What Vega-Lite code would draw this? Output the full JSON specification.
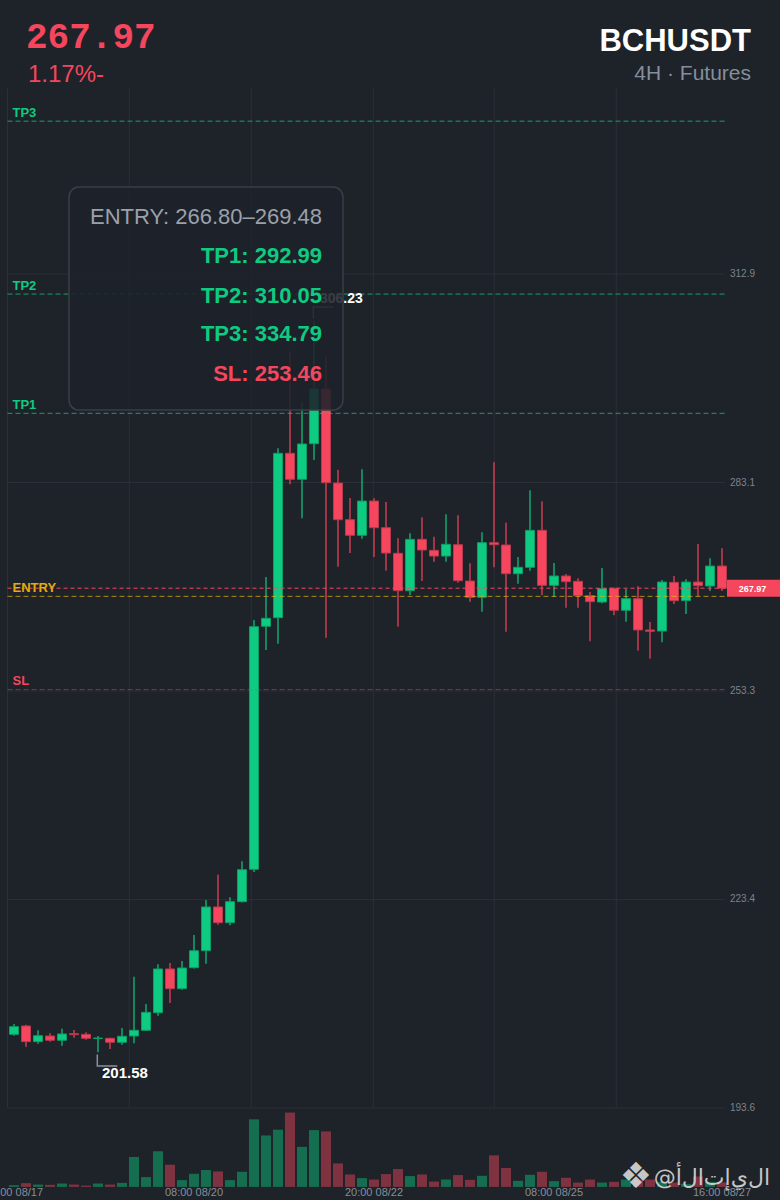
{
  "$schema": "https://vega.github.io/schema/vega-lite/v6.json",
  "width": 780,
  "height": 1200,
  "autosize": {"type": "none"},
  "padding": 0,
  "background": "#1e2229",
  "config": {"view": {"stroke": null}, "font": "Liberation Sans", "text": {"font": "Liberation Sans"}},
  "datasets": {
    "candles": [
      {"t": "2025-08-17T20:00", "open": 204.14, "high": 205.62, "low": 203.94, "close": 205.23, "volume": 1700},
      {"t": "2025-08-18T00:00", "open": 205.33, "high": 205.52, "low": 202.37, "close": 203.09, "volume": 3700},
      {"t": "2025-08-18T04:00", "open": 203.09, "high": 204.72, "low": 202.80, "close": 203.94, "volume": 2300},
      {"t": "2025-08-18T08:00", "open": 203.90, "high": 204.29, "low": 203.09, "close": 203.29, "volume": 2000},
      {"t": "2025-08-18T12:00", "open": 203.29, "high": 204.95, "low": 202.51, "close": 204.19, "volume": 3300},
      {"t": "2025-08-18T16:00", "open": 204.23, "high": 204.76, "low": 203.66, "close": 204.09, "volume": 2300},
      {"t": "2025-08-18T20:00", "open": 204.14, "high": 204.43, "low": 203.37, "close": 203.57, "volume": 1300},
      {"t": "2025-08-19T00:00", "open": 203.54, "high": 203.90, "low": 201.58, "close": 203.61, "volume": 3300},
      {"t": "2025-08-19T04:00", "open": 203.57, "high": 203.66, "low": 202.04, "close": 203.00, "volume": 2300},
      {"t": "2025-08-19T08:00", "open": 203.00, "high": 205.05, "low": 202.66, "close": 203.86, "volume": 4000},
      {"t": "2025-08-19T12:00", "open": 203.90, "high": 212.38, "low": 202.86, "close": 204.72, "volume": 29700},
      {"t": "2025-08-19T16:00", "open": 204.72, "high": 208.48, "low": 204.62, "close": 207.29, "volume": 9700},
      {"t": "2025-08-19T20:00", "open": 207.23, "high": 214.16, "low": 206.81, "close": 213.49, "volume": 35300},
      {"t": "2025-08-20T00:00", "open": 213.49, "high": 214.34, "low": 208.62, "close": 210.67, "volume": 22000},
      {"t": "2025-08-20T04:00", "open": 210.67, "high": 214.63, "low": 210.53, "close": 213.63, "volume": 6700},
      {"t": "2025-08-20T08:00", "open": 213.67, "high": 218.35, "low": 213.55, "close": 216.10, "volume": 13000},
      {"t": "2025-08-20T12:00", "open": 216.10, "high": 223.36, "low": 214.25, "close": 222.36, "volume": 16700},
      {"t": "2025-08-20T16:00", "open": 222.36, "high": 226.98, "low": 219.83, "close": 220.11, "volume": 15300},
      {"t": "2025-08-20T20:00", "open": 220.11, "high": 223.74, "low": 219.74, "close": 223.12, "volume": 6700},
      {"t": "2025-08-21T00:00", "open": 223.12, "high": 228.89, "low": 223.00, "close": 227.69, "volume": 15000},
      {"t": "2025-08-21T04:00", "open": 227.75, "high": 263.42, "low": 227.36, "close": 262.46, "volume": 67000},
      {"t": "2025-08-21T08:00", "open": 262.52, "high": 269.57, "low": 259.12, "close": 263.66, "volume": 51000},
      {"t": "2025-08-21T12:00", "open": 263.75, "high": 287.98, "low": 260.03, "close": 287.27, "volume": 56700},
      {"t": "2025-08-21T16:00", "open": 287.27, "high": 301.90, "low": 282.83, "close": 283.55, "volume": 73700},
      {"t": "2025-08-21T20:00", "open": 283.55, "high": 294.65, "low": 277.97, "close": 288.60, "volume": 39700},
      {"t": "2025-08-22T00:00", "open": 288.64, "high": 306.23, "low": 286.31, "close": 296.47, "volume": 56300},
      {"t": "2025-08-22T04:00", "open": 296.47, "high": 301.09, "low": 260.89, "close": 283.06, "volume": 55000},
      {"t": "2025-08-22T08:00", "open": 283.02, "high": 284.92, "low": 271.04, "close": 277.77, "volume": 23300},
      {"t": "2025-08-22T12:00", "open": 277.77, "high": 280.87, "low": 273.00, "close": 275.54, "volume": 12300},
      {"t": "2025-08-22T16:00", "open": 275.54, "high": 284.98, "low": 275.05, "close": 280.44, "volume": 8700},
      {"t": "2025-08-22T20:00", "open": 280.44, "high": 280.83, "low": 272.43, "close": 276.62, "volume": 7300},
      {"t": "2025-08-23T00:00", "open": 276.62, "high": 280.30, "low": 270.47, "close": 273.00, "volume": 12700},
      {"t": "2025-08-23T04:00", "open": 272.96, "high": 275.11, "low": 262.46, "close": 267.61, "volume": 17700},
      {"t": "2025-08-23T08:00", "open": 267.61, "high": 275.82, "low": 266.99, "close": 274.96, "volume": 10700},
      {"t": "2025-08-23T12:00", "open": 274.96, "high": 278.11, "low": 269.00, "close": 273.43, "volume": 12300},
      {"t": "2025-08-23T16:00", "open": 273.39, "high": 275.34, "low": 271.76, "close": 272.57, "volume": 5300},
      {"t": "2025-08-23T20:00", "open": 272.57, "high": 278.54, "low": 271.76, "close": 274.25, "volume": 7300},
      {"t": "2025-08-24T00:00", "open": 274.19, "high": 278.40, "low": 268.75, "close": 269.04, "volume": 11700},
      {"t": "2025-08-24T04:00", "open": 269.00, "high": 271.53, "low": 266.04, "close": 266.67, "volume": 7000},
      {"t": "2025-08-24T08:00", "open": 266.67, "high": 275.96, "low": 264.61, "close": 274.48, "volume": 11000},
      {"t": "2025-08-24T12:00", "open": 274.48, "high": 285.98, "low": 270.96, "close": 274.19, "volume": 31300},
      {"t": "2025-08-24T16:00", "open": 274.15, "high": 277.34, "low": 261.74, "close": 270.04, "volume": 18700},
      {"t": "2025-08-24T20:00", "open": 270.04, "high": 272.43, "low": 268.61, "close": 270.96, "volume": 6000},
      {"t": "2025-08-25T00:00", "open": 270.96, "high": 281.97, "low": 270.47, "close": 276.25, "volume": 12000},
      {"t": "2025-08-25T04:00", "open": 276.25, "high": 280.40, "low": 266.95, "close": 268.38, "volume": 15000},
      {"t": "2025-08-25T08:00", "open": 268.38, "high": 271.57, "low": 266.71, "close": 269.71, "volume": 5700},
      {"t": "2025-08-25T12:00", "open": 269.71, "high": 270.00, "low": 265.18, "close": 268.90, "volume": 9000},
      {"t": "2025-08-25T16:00", "open": 268.96, "high": 269.38, "low": 265.18, "close": 266.89, "volume": 4300},
      {"t": "2025-08-25T20:00", "open": 266.89, "high": 267.42, "low": 260.37, "close": 266.04, "volume": 7300},
      {"t": "2025-08-26T00:00", "open": 265.99, "high": 270.86, "low": 265.81, "close": 267.90, "volume": 4300},
      {"t": "2025-08-26T04:00", "open": 267.96, "high": 268.05, "low": 264.09, "close": 264.81, "volume": 5000},
      {"t": "2025-08-26T08:00", "open": 264.81, "high": 267.85, "low": 263.17, "close": 266.47, "volume": 7300},
      {"t": "2025-08-26T12:00", "open": 266.47, "high": 268.24, "low": 259.03, "close": 261.99, "volume": 7000},
      {"t": "2025-08-26T16:00", "open": 261.99, "high": 263.13, "low": 257.88, "close": 261.80, "volume": 7300},
      {"t": "2025-08-26T20:00", "open": 261.84, "high": 269.14, "low": 260.23, "close": 268.85, "volume": 5000},
      {"t": "2025-08-27T00:00", "open": 268.81, "high": 269.71, "low": 265.71, "close": 266.18, "volume": 4300},
      {"t": "2025-08-27T04:00", "open": 266.18, "high": 269.24, "low": 264.28, "close": 268.85, "volume": 3000},
      {"t": "2025-08-27T08:00", "open": 268.85, "high": 274.29, "low": 266.85, "close": 268.33, "volume": 10300},
      {"t": "2025-08-27T12:00", "open": 268.28, "high": 272.25, "low": 267.57, "close": 271.14, "volume": 5000},
      {"t": "2025-08-27T16:00", "open": 271.14, "high": 273.68, "low": 267.57, "close": 267.97, "volume": 4500}
    ],
    "levels": [
      {"level": "TP3", "price": 334.79, "kind": "tp", "text": "TP3: 334.79"},
      {"level": "TP2", "price": 310.05, "kind": "tp", "text": "TP2: 310.05"},
      {"level": "TP1", "price": 292.99, "kind": "tp", "text": "TP1: 292.99"},
      {"level": "ENTRY", "price": 266.80, "price_hi": 269.48, "kind": "entry", "text": "ENTRY: 266.80–269.48"},
      {"level": "SL", "price": 253.46, "kind": "sl", "text": "SL: 253.46"}
    ],
    "quote": [
      {"symbol": "BCHUSDT", "price": 267.97, "change": "1.17%-", "tf": "4H · Futures"}
    ],
    "grid_h": [
      {"price": 193.6}, {"price": 223.43}, {"price": 253.26}, {"price": 283.09}, {"price": 312.92}
    ],
    "grid_v": [
      {"t": "2025-08-17T17:50"}, {"t": "2025-08-19T10:26"}, {"t": "2025-08-21T03:06"},
      {"t": "2025-08-22T19:46"}, {"t": "2025-08-24T12:06"}, {"t": "2025-08-26T04:46"}
    ],
    "ticks_x": [
      {"t": "2025-08-17T20:00"}, {"t": "2025-08-20T08:00"}, {"t": "2025-08-22T20:00"},
      {"t": "2025-08-25T08:00"}, {"t": "2025-08-27T16:00"}
    ]
  },
  "layer": [
    {
      "data": {"name": "candles"},
      "mark": {"type": "bar", "width": 10, "opacity": 0.45},
      "encoding": {
        "x": {"field": "t", "type": "temporal", "axis": null,
              "scale": {"domain": [{"year": 2025, "month": 8, "date": 17, "hours": 17, "minutes": 0}, {"year": 2025, "month": 8, "date": 28, "hours": 9, "minutes": 40}], "nice": false}},
        "y": {"field": "volume", "type": "quantitative", "axis": null,
              "scale": {"domain": [-13000, 1177000], "nice": false, "zero": false}},
        "y2": {"datum": 0},
        "color": {"condition": {"test": "datum.close >= datum.open", "value": "#0ecb81"}, "value": "#f6465d"}
      }
    },
    {
      "layer": [
        {
          "data": {"name": "grid_h"},
          "mark": {"type": "rule", "color": "#2b2f37", "strokeWidth": 1},
          "encoding": {
            "x": {"datum": {"year": 2025, "month": 8, "date": 17, "hours": 17, "minutes": 50}, "type": "temporal", "axis": null,
                  "scale": {"domain": [{"year": 2025, "month": 8, "date": 17, "hours": 17, "minutes": 0}, {"year": 2025, "month": 8, "date": 28, "hours": 9, "minutes": 40}], "nice": false}},
            "x2": {"datum": {"year": 2025, "month": 8, "date": 27, "hours": 17, "minutes": 0}},
            "y": {"field": "price", "type": "quantitative", "axis": null,
                  "scale": {"domain": [181.15, 351.41], "nice": false, "zero": false}}
          }
        },
        {
          "data": {"name": "grid_v"},
          "mark": {"type": "rule", "color": "#2b2f37", "strokeWidth": 1},
          "encoding": {
            "x": {"field": "t", "type": "temporal", "axis": null,
                  "scale": {"domain": [{"year": 2025, "month": 8, "date": 17, "hours": 17, "minutes": 0}, {"year": 2025, "month": 8, "date": 28, "hours": 9, "minutes": 40}], "nice": false}},
            "y": {"datum": 339.53, "type": "quantitative", "axis": null, "scale": {"domain": [181.15, 351.41], "nice": false, "zero": false}},
            "y2": {"datum": 193.6}
          }
        },
        {
          "data": {"name": "grid_h"},
          "mark": {"type": "text", "align": "left", "baseline": "middle", "fontSize": 10, "color": "#7d828b"},
          "encoding": {
            "x": {"datum": {"year": 2025, "month": 8, "date": 27, "hours": 18, "minutes": 40}, "type": "temporal", "axis": null,
                  "scale": {"domain": [{"year": 2025, "month": 8, "date": 17, "hours": 17, "minutes": 0}, {"year": 2025, "month": 8, "date": 28, "hours": 9, "minutes": 40}], "nice": false}},
            "y": {"field": "price", "type": "quantitative", "axis": null, "scale": {"domain": [181.15, 351.41], "nice": false, "zero": false}},
            "text": {"field": "price", "type": "quantitative", "format": ".1f"}
          }
        },
        {
          "data": {"name": "ticks_x"},
          "mark": {"type": "text", "align": "center", "baseline": "middle", "fontSize": 11, "color": "#848e9c"},
          "encoding": {
            "x": {"field": "t", "type": "temporal", "axis": null,
                  "scale": {"domain": [{"year": 2025, "month": 8, "date": 17, "hours": 17, "minutes": 0}, {"year": 2025, "month": 8, "date": 28, "hours": 9, "minutes": 40}], "nice": false}},
            "y": {"datum": 181.44, "type": "quantitative", "axis": null, "scale": {"domain": [181.15, 351.41], "nice": false, "zero": false}},
            "text": {"field": "t", "type": "temporal", "format": "%H:%M %m/%d"}
          }
        },
        {
          "data": {"name": "candles"},
          "mark": {"type": "rule", "strokeWidth": 1.2},
          "encoding": {
            "x": {"field": "t", "type": "temporal", "axis": null,
                  "scale": {"domain": [{"year": 2025, "month": 8, "date": 17, "hours": 17, "minutes": 0}, {"year": 2025, "month": 8, "date": 28, "hours": 9, "minutes": 40}], "nice": false}},
            "y": {"field": "low", "type": "quantitative", "axis": null, "scale": {"domain": [181.15, 351.41], "nice": false, "zero": false}},
            "y2": {"field": "high"},
            "color": {"condition": {"test": "datum.close >= datum.open", "value": "#0ecb81"}, "value": "#f6465d"}
          }
        },
        {
          "data": {"name": "candles"},
          "mark": {"type": "bar", "width": 9, "strokeWidth": 1},
          "encoding": {
            "x": {"field": "t", "type": "temporal", "axis": null,
                  "scale": {"domain": [{"year": 2025, "month": 8, "date": 17, "hours": 17, "minutes": 0}, {"year": 2025, "month": 8, "date": 28, "hours": 9, "minutes": 40}], "nice": false}},
            "y": {"field": "open", "type": "quantitative", "axis": null, "scale": {"domain": [181.15, 351.41], "nice": false, "zero": false}},
            "y2": {"field": "close"},
            "color": {"condition": {"test": "datum.close >= datum.open", "value": "#0ecb81"}, "value": "#f6465d"},
            "stroke": {"condition": {"test": "datum.close >= datum.open", "value": "#0c9e66"}, "value": "#b83a4d"}
          }
        },
        {
          "data": {"name": "levels"},
          "mark": {"type": "rule", "strokeDash": [5, 3], "strokeWidth": 1},
          "encoding": {
            "x": {"datum": {"year": 2025, "month": 8, "date": 17, "hours": 17, "minutes": 50}, "type": "temporal", "axis": null,
                  "scale": {"domain": [{"year": 2025, "month": 8, "date": 17, "hours": 17, "minutes": 0}, {"year": 2025, "month": 8, "date": 28, "hours": 9, "minutes": 40}], "nice": false}},
            "x2": {"datum": {"year": 2025, "month": 8, "date": 27, "hours": 17, "minutes": 0}},
            "y": {"field": "price", "type": "quantitative", "axis": null, "scale": {"domain": [181.15, 351.41], "nice": false, "zero": false}},
            "color": {"field": "kind", "type": "nominal", "legend": null,
                      "scale": {"domain": ["tp", "entry", "sl"], "range": ["#0ecb81", "#e0ad0c", "#f6465d"]}},
            "opacity": {"condition": {"test": "datum.kind == 'sl'", "value": 0.5}, "value": 0.75}
          }
        },
        {
          "data": {"name": "quote"},
          "mark": {"type": "rule", "strokeDash": [4, 3], "strokeWidth": 1, "color": "#f6465d"},
          "encoding": {
            "x": {"datum": {"year": 2025, "month": 8, "date": 17, "hours": 17, "minutes": 50}, "type": "temporal", "axis": null,
                  "scale": {"domain": [{"year": 2025, "month": 8, "date": 17, "hours": 17, "minutes": 0}, {"year": 2025, "month": 8, "date": 28, "hours": 9, "minutes": 40}], "nice": false}},
            "x2": {"datum": {"year": 2025, "month": 8, "date": 27, "hours": 17, "minutes": 40}},
            "y": {"field": "price", "type": "quantitative", "axis": null, "scale": {"domain": [181.15, 351.41], "nice": false, "zero": false}}
          }
        },
        {
          "data": {"name": "levels"},
          "mark": {"type": "text", "align": "left", "baseline": "middle", "dy": -8.5, "fontSize": 13, "fontWeight": "bold"},
          "encoding": {
            "x": {"datum": {"year": 2025, "month": 8, "date": 17, "hours": 19, "minutes": 30}, "type": "temporal", "axis": null,
                  "scale": {"domain": [{"year": 2025, "month": 8, "date": 17, "hours": 17, "minutes": 0}, {"year": 2025, "month": 8, "date": 28, "hours": 9, "minutes": 40}], "nice": false}},
            "y": {"field": "price", "type": "quantitative", "axis": null, "scale": {"domain": [181.15, 351.41], "nice": false, "zero": false}},
            "text": {"field": "level"},
            "color": {"field": "kind", "type": "nominal", "legend": null,
                      "scale": {"domain": ["tp", "entry", "sl"], "range": ["#0ecb81", "#e0ad0c", "#f6465d"]}}
          }
        },
        {
          "data": {"name": "candles"},
          "transform": [{"joinaggregate": [{"op": "min", "field": "low", "as": "lmin"}]}, {"filter": "datum.low == datum.lmin"}],
          "layer": [
            {"mark": {"type": "point", "shape": "M-0.07,0.24V1.37H1.93", "size": 400, "filled": false, "strokeWidth": 1.5, "color": "#8a8f98", "opacity": 1}},
            {"mark": {"type": "text", "align": "left", "baseline": "middle", "dx": 4, "dy": 21, "fontSize": 15, "fontWeight": "bold", "color": "#ffffff"},
             "encoding": {"text": {"field": "low", "type": "quantitative", "format": ".2f"}}}
          ],
          "encoding": {
            "x": {"field": "t", "type": "temporal", "axis": null,
                  "scale": {"domain": [{"year": 2025, "month": 8, "date": 17, "hours": 17, "minutes": 0}, {"year": 2025, "month": 8, "date": 28, "hours": 9, "minutes": 40}], "nice": false}},
            "y": {"field": "low", "type": "quantitative", "axis": null, "scale": {"domain": [181.15, 351.41], "nice": false, "zero": false}}
          }
        },
        {
          "data": {"name": "candles"},
          "transform": [{"joinaggregate": [{"op": "max", "field": "high", "as": "hmax"}]}, {"filter": "datum.high == datum.hmax"}],
          "layer": [
            {"mark": {"type": "point", "shape": "M-0.07,-0.24V-1.37H1.93", "size": 400, "filled": false, "strokeWidth": 1.5, "color": "#8a8f98", "opacity": 1}},
            {"mark": {"type": "text", "align": "left", "baseline": "middle", "dx": 6, "dy": -22, "fontSize": 14, "fontWeight": "bold", "color": "#ffffff"},
             "encoding": {"text": {"field": "high", "type": "quantitative", "format": ".2f"}}}
          ],
          "encoding": {
            "x": {"field": "t", "type": "temporal", "axis": null,
                  "scale": {"domain": [{"year": 2025, "month": 8, "date": 17, "hours": 17, "minutes": 0}, {"year": 2025, "month": 8, "date": 28, "hours": 9, "minutes": 40}], "nice": false}},
            "y": {"field": "high", "type": "quantitative", "axis": null, "scale": {"domain": [181.15, 351.41], "nice": false, "zero": false}}
          }
        },
        {
          "data": {"name": "quote"},
          "mark": {"type": "rect", "cornerRadius": 10, "fill": "#1e222a", "fillOpacity": 0.88, "stroke": "#3a3e46", "strokeWidth": 1.5},
          "encoding": {
            "x": {"datum": {"year": 2025, "month": 8, "date": 18, "hours": 14, "minutes": 20}, "type": "temporal", "axis": null,
                  "scale": {"domain": [{"year": 2025, "month": 8, "date": 17, "hours": 17, "minutes": 0}, {"year": 2025, "month": 8, "date": 28, "hours": 9, "minutes": 40}], "nice": false}},
            "x2": {"datum": {"year": 2025, "month": 8, "date": 22, "hours": 9, "minutes": 40}},
            "y": {"datum": 325.37, "type": "quantitative", "axis": null, "scale": {"domain": [181.15, 351.41], "nice": false, "zero": false}},
            "y2": {"datum": 293.46}
          }
        },
        {
          "data": {"name": "levels"},
          "layer": [
            {"transform": [{"filter": "datum.level == 'ENTRY'"}],
             "mark": {"type": "text", "align": "right", "baseline": "middle", "fontSize": 22, "color": "#9ba1aa"},
             "encoding": {"y": {"datum": 321.07, "type": "quantitative", "axis": null, "scale": {"domain": [181.15, 351.41], "nice": false, "zero": false}}}},
            {"transform": [{"filter": "datum.level == 'TP1'"}],
             "mark": {"type": "text", "align": "right", "baseline": "middle", "fontSize": 22, "fontWeight": "bold", "color": "#0ecb81"},
             "encoding": {"y": {"datum": 315.5, "type": "quantitative", "axis": null, "scale": {"domain": [181.15, 351.41], "nice": false, "zero": false}}}},
            {"transform": [{"filter": "datum.level == 'TP2'"}],
             "mark": {"type": "text", "align": "right", "baseline": "middle", "fontSize": 22, "fontWeight": "bold", "color": "#0ecb81"},
             "encoding": {"y": {"datum": 309.77, "type": "quantitative", "axis": null, "scale": {"domain": [181.15, 351.41], "nice": false, "zero": false}}}},
            {"transform": [{"filter": "datum.level == 'TP3'"}],
             "mark": {"type": "text", "align": "right", "baseline": "middle", "fontSize": 22, "fontWeight": "bold", "color": "#0ecb81"},
             "encoding": {"y": {"datum": 304.34, "type": "quantitative", "axis": null, "scale": {"domain": [181.15, 351.41], "nice": false, "zero": false}}}},
            {"transform": [{"filter": "datum.level == 'SL'"}],
             "mark": {"type": "text", "align": "right", "baseline": "middle", "fontSize": 22, "fontWeight": "bold", "color": "#f6465d"},
             "encoding": {"y": {"datum": 298.61, "type": "quantitative", "axis": null, "scale": {"domain": [181.15, 351.41], "nice": false, "zero": false}}}}
          ],
          "encoding": {
            "x": {"datum": {"year": 2025, "month": 8, "date": 22, "hours": 2, "minutes": 40}, "type": "temporal", "axis": null,
                  "scale": {"domain": [{"year": 2025, "month": 8, "date": 17, "hours": 17, "minutes": 0}, {"year": 2025, "month": 8, "date": 28, "hours": 9, "minutes": 40}], "nice": false}},
            "text": {"field": "text"}
          }
        },
        {
          "data": {"name": "quote"},
          "mark": {"type": "bar", "orient": "horizontal", "height": 17, "color": "#f6465d"},
          "encoding": {
            "x": {"datum": {"year": 2025, "month": 8, "date": 27, "hours": 17, "minutes": 40}, "type": "temporal", "axis": null,
                  "scale": {"domain": [{"year": 2025, "month": 8, "date": 17, "hours": 17, "minutes": 0}, {"year": 2025, "month": 8, "date": 28, "hours": 9, "minutes": 40}], "nice": false}},
            "x2": {"datum": {"year": 2025, "month": 8, "date": 28, "hours": 11, "minutes": 20}},
            "y": {"field": "price", "type": "quantitative", "axis": null, "scale": {"domain": [181.15, 351.41], "nice": false, "zero": false}}
          }
        },
        {
          "data": {"name": "quote"},
          "mark": {"type": "text", "align": "center", "baseline": "middle", "fontSize": 9, "fontWeight": "bold", "color": "#ffffff", "dy": 1},
          "encoding": {
            "x": {"datum": {"year": 2025, "month": 8, "date": 28, "hours": 2, "minutes": 10}, "type": "temporal", "axis": null,
                  "scale": {"domain": [{"year": 2025, "month": 8, "date": 17, "hours": 17, "minutes": 0}, {"year": 2025, "month": 8, "date": 28, "hours": 9, "minutes": 40}], "nice": false}},
            "y": {"field": "price", "type": "quantitative", "axis": null, "scale": {"domain": [181.15, 351.41], "nice": false, "zero": false}},
            "text": {"field": "price", "type": "quantitative", "format": ".2f"}
          }
        },
        {
          "data": {"name": "quote"},
          "layer": [
            {"mark": {"type": "text", "align": "left", "baseline": "alphabetic", "font": "Liberation Mono", "fontSize": 36, "fontWeight": "bold", "color": "#f6465d"},
             "encoding": {
               "x": {"datum": {"year": 2025, "month": 8, "date": 18, "hours": 0, "minutes": 0}, "type": "temporal", "axis": null,
                     "scale": {"domain": [{"year": 2025, "month": 8, "date": 17, "hours": 17, "minutes": 0}, {"year": 2025, "month": 8, "date": 28, "hours": 9, "minutes": 40}], "nice": false}},
               "y": {"datum": 345.25, "type": "quantitative", "axis": null, "scale": {"domain": [181.15, 351.41], "nice": false, "zero": false}},
               "text": {"field": "price", "type": "quantitative", "format": ".2f"}}},
            {"mark": {"type": "text", "align": "left", "baseline": "alphabetic", "fontSize": 24, "color": "#f6465d"},
             "encoding": {
               "x": {"datum": {"year": 2025, "month": 8, "date": 18, "hours": 0, "minutes": 40}, "type": "temporal", "axis": null,
                     "scale": {"domain": [{"year": 2025, "month": 8, "date": 17, "hours": 17, "minutes": 0}, {"year": 2025, "month": 8, "date": 28, "hours": 9, "minutes": 40}], "nice": false}},
               "y": {"datum": 340.39, "type": "quantitative", "axis": null, "scale": {"domain": [181.15, 351.41], "nice": false, "zero": false}},
               "text": {"field": "change"}}},
            {"mark": {"type": "text", "align": "right", "baseline": "alphabetic", "fontSize": 31, "fontWeight": "bold", "color": "#ffffff"},
             "encoding": {
               "x": {"datum": {"year": 2025, "month": 8, "date": 28, "hours": 1, "minutes": 40}, "type": "temporal", "axis": null,
                     "scale": {"domain": [{"year": 2025, "month": 8, "date": 17, "hours": 17, "minutes": 0}, {"year": 2025, "month": 8, "date": 28, "hours": 9, "minutes": 40}], "nice": false}},
               "y": {"datum": 344.82, "type": "quantitative", "axis": null, "scale": {"domain": [181.15, 351.41], "nice": false, "zero": false}},
               "text": {"field": "symbol"}}},
            {"mark": {"type": "text", "align": "right", "baseline": "alphabetic", "fontSize": 21, "color": "#848e9c"},
             "encoding": {
               "x": {"datum": {"year": 2025, "month": 8, "date": 28, "hours": 1, "minutes": 40}, "type": "temporal", "axis": null,
                     "scale": {"domain": [{"year": 2025, "month": 8, "date": 17, "hours": 17, "minutes": 0}, {"year": 2025, "month": 8, "date": 28, "hours": 9, "minutes": 40}], "nice": false}},
               "y": {"datum": 340.68, "type": "quantitative", "axis": null, "scale": {"domain": [181.15, 351.41], "nice": false, "zero": false}},
               "text": {"field": "tf"}}}
          ]
        }
      ]
    },
    {
      "data": {"name": "quote"},
      "layer": [
        {"mark": {"type": "text", "align": "center", "baseline": "middle", "font": "DejaVu Sans", "fontSize": 36, "color": "#d8d8d8", "opacity": 0.9, "text": "❖"},
         "encoding": {
           "x": {"datum": {"year": 2025, "month": 8, "date": 26, "hours": 11, "minutes": 20}, "type": "temporal", "axis": null,
                 "scale": {"domain": [{"year": 2025, "month": 8, "date": 17, "hours": 17, "minutes": 0}, {"year": 2025, "month": 8, "date": 28, "hours": 9, "minutes": 40}], "nice": false}},
           "y": {"datum": 184.44, "type": "quantitative", "axis": null, "scale": {"domain": [181.15, 351.41], "nice": false, "zero": false}}}},
        {"mark": {"type": "text", "align": "right", "baseline": "middle", "font": "DejaVu Sans", "fontSize": 22, "color": "#d8d8d8", "opacity": 0.9, "text": "@ﺍﻝﻱﺇﺕﺍﻝﺃ"},
         "encoding": {
           "x": {"datum": {"year": 2025, "month": 8, "date": 28, "hours": 8, "minutes": 0}, "type": "temporal", "axis": null,
                 "scale": {"domain": [{"year": 2025, "month": 8, "date": 17, "hours": 17, "minutes": 0}, {"year": 2025, "month": 8, "date": 28, "hours": 9, "minutes": 40}], "nice": false}},
           "y": {"datum": 184.3, "type": "quantitative", "axis": null, "scale": {"domain": [181.15, 351.41], "nice": false, "zero": false}}}}
      ]
    }
  ],
  "resolve": {"scale": {"y": "independent"}}
}
